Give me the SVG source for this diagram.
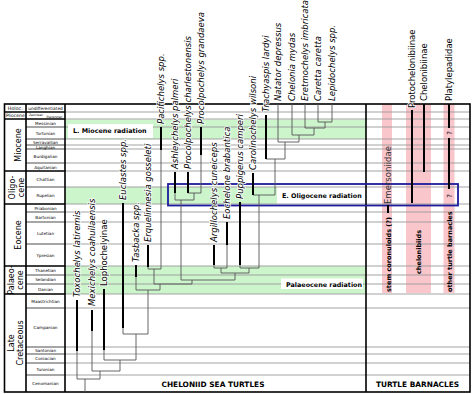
<svg xmlns="http://www.w3.org/2000/svg" width="474" height="394" viewBox="0 0 474 394">
<style>
text{font-family:"DejaVu Sans","Liberation Sans",sans-serif;fill:#000}
.grid{stroke:#999;stroke-width:0.9;fill:none}
.frame{stroke:#000;stroke-width:1.6;fill:none}
.thin{stroke:#000;stroke-width:0.7;fill:none}
.tree{stroke:#555;stroke-width:0.9;fill:none}
.range{stroke:#000;stroke-width:2;fill:none}
.tx{font-size:8.5px;font-style:italic;paint-order:stroke;stroke:#fff;stroke-width:1.5px}
.bn{font-size:8.5px;paint-order:stroke;stroke:#fff;stroke-width:1.5px}
.st{font-size:4.2px;text-anchor:middle}
.ep{font-size:8px;text-anchor:middle}
.rad{font-size:6.4px;font-weight:bold}
.ttl{font-size:7.4px;font-weight:bold;text-anchor:middle}
.bb{font-size:6.5px;font-weight:bold}
.green{fill:#ccf5cc}
.pink{fill:#f9c6cc}
</style>
<rect width="474" height="394" fill="#fff"/>
<g id="bands">
<rect class="green" x="65" y="119.5" width="301" height="19.5"/>
<rect class="green" x="65" y="187" width="212" height="17"/>
<rect class="green" x="65" y="266" width="301" height="28"/>
<rect class="pink" x="382" y="104" width="10" height="189"/>
<rect class="pink" x="406" y="104" width="25" height="189"/>
<rect class="pink" x="443.5" y="104" width="11" height="189"/>
</g>
<g id="grid">
<path class="grid" d="M65 112H470M65 119H470M65 127H470M65 139H470M65 145H470M65 149H470M65 163H470M65 171H470M65 187H470M65 204H470M65 212H470M65 222H470M65 244H470M65 266H470M65 275H470M65 284H470M65 294H470M65 308H470M65 347H470M65 354H470M65 363H470M65 375H470"/>
<path class="thin" d="M26 127H65M26 139H65M26 145H65M26 149H65M26 163H65M26 187H65M26 212H65M26 222H65M26 244H65M26 275H65M26 284H65M26 308H65M26 347H65M26 354H65M26 363H65M26 375H65"/>
<path class="frame" d="M4.5 112H65M4.5 119H65M4.5 171H65M4.5 204H65M4.5 266H65M4.5 294H65"/>
<rect class="frame" x="4.5" y="104" width="465.5" height="288"/>
<path class="frame" d="M26 104V392M65 104V392M366 104V392"/>
</g>
<g id="labelboxes">
<rect x="68" y="124" width="85" height="14" fill="#fff"/>
<rect x="281" y="278.5" width="82" height="10.5" fill="#fff"/>
</g>
<g id="timescale">
<text x="15.3" y="110" font-size="4.8" text-anchor="middle">Holoc.</text>
<text x="45.5" y="109.6" font-size="4.3" text-anchor="middle">undifferentiated</text>
<text x="15.3" y="117.3" font-size="4.5" text-anchor="middle">Pliocene</text>
<text x="36" y="116.2" font-size="3" text-anchor="middle">Zanclean</text>
<text x="54.5" y="117.8" font-size="3" text-anchor="middle">Piacenzian</text>
<text class="ep" transform="translate(20.5,145) rotate(-90)">Miocene</text>
<text class="ep" transform="translate(15,187.5) rotate(-90)">Oligo-</text>
<text class="ep" transform="translate(23.5,187.5) rotate(-90)">cene</text>
<text class="ep" transform="translate(21,235) rotate(-90)">Eocene</text>
<text class="ep" transform="translate(13.5,280) rotate(-90)">Palaeo-</text>
<text class="ep" transform="translate(22.7,280) rotate(-90)">cene</text>
<text class="ep" transform="translate(14,343) rotate(-90)">Late</text>
<text class="ep" transform="translate(22.7,343) rotate(-90)">Cretaceous</text>
<text class="st" x="45.5" y="124.5">Messinian</text>
<text class="st" x="45.5" y="134.5">Tortonian</text>
<text class="st" x="45.5" y="143.5">Serravallian</text>
<text class="st" x="45.5" y="148.5">Langhian</text>
<text class="st" x="45.5" y="157.5">Burdigalian</text>
<text class="st" x="45.5" y="168.5">Aquitanian</text>
<text class="st" x="45.5" y="180.5">Chattian</text>
<text class="st" x="45.5" y="197">Rupelian</text>
<text class="st" x="45.5" y="209.5">Priabonian</text>
<text class="st" x="45.5" y="218.5">Bartonian</text>
<text class="st" x="45.5" y="234.5">Lutetian</text>
<text class="st" x="45.5" y="256.5">Ypresian</text>
<text class="st" x="45.5" y="272">Thanetian</text>
<text class="st" x="45.5" y="281">Selandian</text>
<text class="st" x="45.5" y="290.5">Danian</text>
<text class="st" x="45.5" y="302.5">Maastrichtian</text>
<text class="st" x="45.5" y="329">Campanian</text>
<text class="st" x="45.5" y="352">Santonian</text>
<text class="st" x="45.5" y="360">Coniacian</text>
<text class="st" x="45.5" y="370.5">Turonian</text>
<text class="st" x="45.5" y="385">Cenomanian</text>
</g>
<g id="radiations">
<text class="rad" x="73" y="133.3" font-size="6.5">L. Miocene radiation</text>
<rect x="168" y="184" width="290" height="21.5" fill="none" stroke="#1c1c9c" stroke-width="1.8"/>
<text class="rad" x="282" y="198">E. Oligocene radiation</text>
<text class="rad" x="286" y="286.5" font-size="6.1">Palaeocene radiation</text>
</g>
<g id="connectors">
<path class="tree" d="M77 351V379M77 379H100M85 379V392M92 331V371M92 371H120M100 371V379M104 350V360M104 360H136M120 360V371M123 328V334M123 334H148M136 334V360M136 277V290M136 290H160M148 290V334M160 284V290M154 284H192M154 269V284M148 267V269M161 150V269M148 269H161M192 280V284M181 280H235M181 200V280M175 193V200M175 200H194M194 193V200M188 193H201M201 155V193M235 273V280M221 273H249M221 268V273M249 268V273M214 265V268M214 268H227M227 245V268M240 265V268M240 268H259M259 195V268M253 195H275M275 159V195M266 159H285M285 142V159M278 104V142M278 142H299M299 135V142M292 104V135M292 135H314M314 128V135M305 104V128M305 128H325M325 122V128M318 104V122M332 104V122M318 122H332"/>
</g>
<g id="n-toxochelys"><path class="range" d="M77 300V351"/><text class="tx" transform="translate(80,297) rotate(-90)">Toxochelys latiremis</text></g>
<g id="n-mexichelys"><path class="range" d="M92 310V331"/><text class="tx" transform="translate(95,306) rotate(-90)">Mexichelys coahuilaensis</text></g>
<g id="n-lophochelyinae"><path class="range" d="M104 289V350"/><text class="bn" transform="translate(107,286) rotate(-90)">Lophochelyinae</text></g>
<g id="n-euclastes"><path class="range" d="M123 203V328"/><text class="tx" transform="translate(126,200) rotate(-90)">Euclastes spp.</text></g>
<g id="n-tasbacka"><path class="range" d="M136 265V277"/><text class="tx" transform="translate(139,262) rotate(-90)">Tasbacka spp.</text></g>
<g id="n-erquelinnesia"><path class="range" d="M148 245V267"/><text class="tx" transform="translate(151,242) rotate(-90)">Erquelinnesia gosseleti</text></g>
<g id="n-pacifichelys"><path class="range" d="M161 127V150"/><text class="tx" transform="translate(164,124) rotate(-90)">Pacifichelys spp.</text></g>
<g id="n-ashleychelys"><path class="range" d="M175 172V193"/><text class="tx" transform="translate(178,169) rotate(-90)">Ashleychelys palmeri</text></g>
<g id="n-procolpochelys-ch"><path class="range" d="M188 172V193"/><text class="tx" transform="translate(191,169) rotate(-90)">Procolpochelys charlestonensis</text></g>
<g id="n-procolpochelys-gr"><path class="range" d="M201 127V155"/><text class="tx" transform="translate(204,124) rotate(-90)">Procolpochelys grandaeva</text></g>
<g id="n-argillochelys"><path class="range" d="M214 245V265"/><text class="tx" transform="translate(217,242) rotate(-90)">Argillochelys cuneiceps</text></g>
<g id="n-eochelone"><path class="range" d="M227 222V245"/><text class="tx" transform="translate(230,219) rotate(-90)">Eochelone brabantica</text></g>
<g id="n-puppigerus"><path class="range" d="M240 202V265"/><text class="tx" transform="translate(243,199) rotate(-90)">Puppigerus camperi</text></g>
<g id="n-carolinochelys"><path class="range" d="M253 173V195"/><text class="tx" transform="translate(256,170) rotate(-90)">Carolinochelys wilsoni</text></g>
<g id="n-trachyaspis"><path class="range" d="M266 115V159"/><text class="tx" transform="translate(269,112) rotate(-90)">Trachyaspis lardyi</text></g>
<g id="n-natator"><text class="tx" transform="translate(281,101) rotate(-90)">Natator depressus</text></g>
<g id="n-chelonia"><text class="tx" transform="translate(295,101) rotate(-90)">Chelonia mydas</text></g>
<g id="n-eretmochelys"><text class="tx" transform="translate(308,101) rotate(-90)">Eretmochelys imbricata</text></g>
<g id="n-caretta"><text class="tx" transform="translate(321,101) rotate(-90)">Caretta caretta</text></g>
<g id="n-lepidochelys"><text class="tx" transform="translate(335,101) rotate(-90)">Lepidochelys spp.</text></g>
<g id="n-protochelonibiinae"><path class="range" d="M412 110V203"/><text class="bn" transform="translate(415,108) rotate(-90)">Protochelonibiinae</text></g>
<g id="n-chelonibiinae"><path class="range" d="M424 104V172"/><text class="bn" transform="translate(427,101) rotate(-90)">Chelonibiinae</text></g>
<g id="n-platylepadidae"><path class="range" d="M449 104V128M449 138V189"/><text class="bn" transform="translate(452,101) rotate(-90)">Platylepadidae</text>
<text font-size="7" text-anchor="middle" transform="translate(451.5,133) rotate(-90)">?</text>
<text font-size="7" text-anchor="middle" transform="translate(451.5,196) rotate(-90)">?</text></g>
<g id="n-emersoniidae"><path class="range" d="M388 205V213"/><text font-size="8.5" style="fill:#333" transform="translate(391,204) rotate(-90)">Emersoniidae</text></g>
<g id="n-stem"><text class="bb" transform="translate(390.5,292) rotate(-90)">stem coronuloids (?)</text></g>
<g id="n-chelonibiids"><text class="bb" transform="translate(420.5,274) rotate(-90)">chelonibiids</text></g>
<g id="n-other"><text class="bb" transform="translate(451.5,292) rotate(-90)">other turtle barnacles</text></g>
<g id="titles">
<text class="ttl" x="213" y="387">CHELONIID SEA TURTLES</text>
<text class="ttl" x="417.5" y="387">TURTLE BARNACLES</text>
</g>
</svg>
